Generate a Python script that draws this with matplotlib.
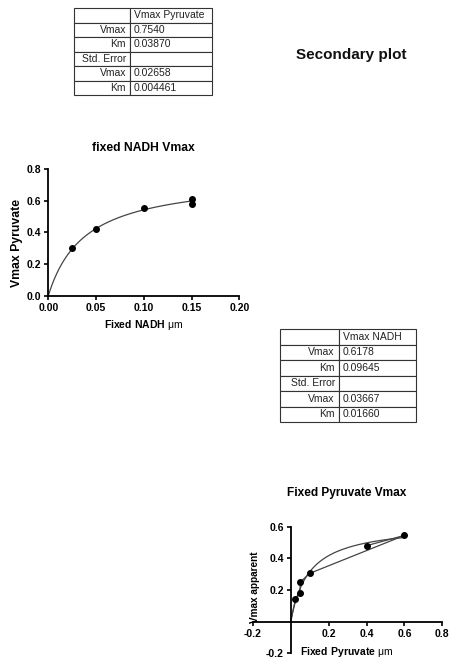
import numpy as np
import matplotlib
matplotlib.use("Agg")
import matplotlib.pyplot as plt

plt.rcParams['font.family'] = ['Liberation Sans', 'DejaVu Sans']
plt.rcParams['mathtext.fontset'] = 'custom'
plt.rcParams['mathtext.rm'] = 'Liberation Sans'
plt.rcParams['mathtext.bf'] = 'Liberation Sans:bold'

# ---- data ----
row_labels = ["", "Vmax", "Km", "Std. Error", "Vmax", "Km"]
table1_values = ["Vmax Pyruvate", "0.7540", "0.03870", "", "0.02658", "0.004461"]
table2_values = ["Vmax NADH", "0.6178", "0.09645", "", "0.03667", "0.01660"]

nadh_x = [0.025, 0.05, 0.10, 0.15, 0.15]
nadh_y = [0.30, 0.42, 0.555, 0.61, 0.58]
nadh_vmax = 0.7540
nadh_km = 0.03870

pyr_x = [0.025, 0.05, 0.05, 0.10, 0.40, 0.60]
pyr_y = [0.14, 0.18, 0.25, 0.305, 0.48, 0.55]
pyr_line_x = [0.0, 0.025, 0.05, 0.05, 0.10, 0.60, 0.40]
pyr_line_y = [0.0, 0.14, 0.18, 0.25, 0.305, 0.545, 0.48]
pyr_vmax = 0.6178
pyr_km = 0.09645

W, H = 474, 668
fig = plt.figure(figsize=(W / 100, H / 100), dpi=100)


def box(l, t, r, b):
    return [l / W, 1 - b / H, (r - l) / W, (b - t) / H]


def draw_table(l, t, r, b, split, values):
    ax = fig.add_axes(box(l, t, r, b))
    ax.set_xlim(0, 1)
    ax.set_ylim(len(values), 0)
    ax.axis('off')
    s = (split - l) / (r - l)
    tb = ax.table(cellText=[[a, v] for a, v in zip(row_labels, values)],
                  colWidths=[s, 1 - s], bbox=[0, 0, 1, 1], edges='closed')
    tb.auto_set_font_size(False)
    for (i, j), c in tb.get_celld().items():
        c.set_linewidth(0.8)
        c.set_edgecolor('#333333')
        c.set_fontsize(7.5)
        c.get_text().set_color('#222222')
        if j == 0:
            c._loc = 'right'
            c.get_text().set_horizontalalignment('right')
            c.PAD = 0.07
        else:
            c._loc = 'left'
            c.get_text().set_horizontalalignment('left')
            c.PAD = 0.05
    return ax


draw_table(74, 8, 212, 95, 130, table1_values)
draw_table(280, 329, 416, 422, 339, table2_values)

fig.text(351 / W, 1 - 55 / H, "Secondary plot", ha='center', va='center',
         fontsize=11, fontweight='bold', color='#111111')

TICK = 7.5
XLAB = 7.5

# ---- plot 1 ----
ax1 = fig.add_axes(box(48.3, 169.3, 239.3, 295.7))
xs = np.linspace(0, 0.15, 200)
ax1.plot(xs, nadh_vmax * xs / (nadh_km + xs), color='#444444', lw=0.9)
ax1.plot(nadh_x, nadh_y, 'o', color='black', ms=4)
ax1.set_xlim(0, 0.2)
ax1.set_ylim(0, 0.8)
ax1.set_xticks([0.0, 0.05, 0.10, 0.15, 0.20])
ax1.set_xticklabels(["0.00", "0.05", "0.10", "0.15", "0.20"])
ax1.set_yticks([0.0, 0.2, 0.4, 0.6, 0.8])
ax1.set_yticklabels(["0.0", "0.2", "0.4", "0.6", "0.8"])
for sp in ['top', 'right']:
    ax1.spines[sp].set_visible(False)
for sp in ['left', 'bottom']:
    ax1.spines[sp].set_linewidth(1.3)
ax1.tick_params(width=1.2, length=3, labelsize=TICK, pad=2)
for lab in ax1.get_xticklabels() + ax1.get_yticklabels():
    lab.set_fontweight('bold')
ax1.set_xlabel(r"$\mathbf{Fixed\ NADH}$ μm", fontsize=XLAB)
ax1.xaxis.set_label_coords(0.497, -0.232)
ax1.xaxis.label.set_va('center')
ax1.set_ylabel("Vmax Pyruvate", fontsize=8.8, fontweight='bold')
ax1.yaxis.set_label_coords(-0.165, 0.42)
ax1.yaxis.label.set_va('center')
fig.text(143 / W, 1 - 148 / H, "fixed NADH Vmax", ha='center', va='center',
         fontsize=8.7, fontweight='bold')

# ---- plot 2 ----
ax2 = fig.add_axes(box(252.8, 526.7, 442.3, 653.3))
xs2 = np.linspace(0, 0.6, 200)
ax2.plot(xs2, pyr_vmax * xs2 / (pyr_km + xs2), color='#444444', lw=0.9)
ax2.plot(pyr_line_x, pyr_line_y, color='#444444', lw=0.9)
ax2.plot(pyr_x, pyr_y, 'o', color='black', ms=4)
ax2.set_xlim(-0.2, 0.8)
ax2.set_ylim(-0.2, 0.6)
ax2.spines['left'].set_position(('data', 0))
ax2.spines['bottom'].set_position(('data', 0))
for sp in ['top', 'right']:
    ax2.spines[sp].set_visible(False)
for sp in ['left', 'bottom']:
    ax2.spines[sp].set_linewidth(1.3)
ax2.set_xticks([-0.2, 0.2, 0.4, 0.6, 0.8])
ax2.set_xticklabels(["-0.2", "0.2", "0.4", "0.6", "0.8"])
ax2.set_yticks([-0.2, 0.2, 0.4, 0.6])
ax2.set_yticklabels(["-0.2", "0.2", "0.4", "0.6"])
ax2.tick_params(width=1.2, length=3, labelsize=TICK, pad=2)
for lab in ax2.get_xticklabels() + ax2.get_yticklabels():
    lab.set_fontweight('bold')
ax2.set_xlabel(r"$\mathbf{Fixed\ Pyruvate}$ μm", fontsize=XLAB)
ax2.xaxis.set_label_coords(0.495, 0.013)
ax2.xaxis.label.set_va('center')
ax2.set_ylabel("Vmax apparent", fontsize=7.2, fontweight='bold')
ax2.yaxis.set_label_coords(0.012, 0.52)
ax2.yaxis.label.set_va('center')
fig.text(347 / W, 1 - 493 / H, "Fixed Pyruvate Vmax", ha='center', va='center',
         fontsize=8.6, fontweight='bold')

fig.savefig("out.png", dpi=100, facecolor='white')
